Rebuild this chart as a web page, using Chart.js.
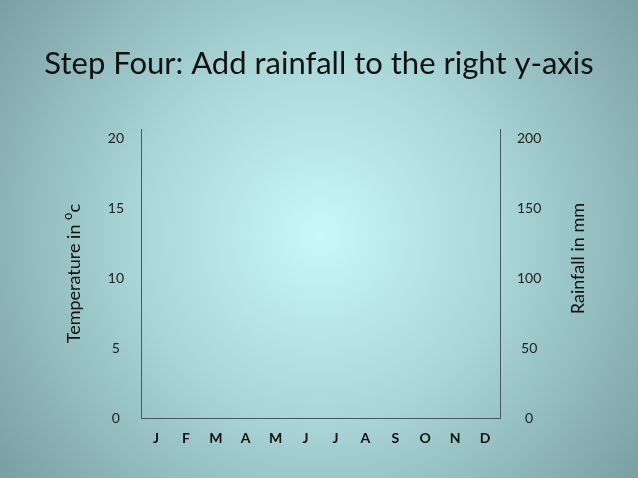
<!DOCTYPE html>
<html>
<head>
<meta charset="utf-8">
<script src="https://cdn.jsdelivr.net/npm/chart.js@4"></script>
<style>
  html, body { margin: 0; padding: 0; background: #8fb3b6; }
  #wrap { width: 638px; height: 478px; }
</style>
</head>
<body>
<div id="wrap"><canvas id="rainChart" width="638" height="478"></canvas></div>
<script>
// chart data (temperature and rainfall are not plotted yet at this step)
const months = ['J', 'F', 'M', 'A', 'M', 'J', 'J', 'A', 'S', 'O', 'N', 'D'];
const temperature = [];
const rainfall = [];
const tempTicks = [0, 5, 10, 15, 20];
const rainTicks = [0, 50, 100, 150, 200];

const slideBackground = {
    id: 'slideBackground',
    beforeDraw(chart) {
        const ctx = chart.ctx;
        const w = chart.width, h = chart.height;
        const g = ctx.createRadialGradient(320, 235, 0, 320, 235, 420);
        g.addColorStop(0, '#c9f8f8');
        g.addColorStop(0.45, '#a8d5d6');
        g.addColorStop(1, '#759a9e');
        ctx.save();
        ctx.fillStyle = g;
        ctx.fillRect(0, 0, w, h);
        ctx.restore();
    }
};

// both axis titles read bottom-to-top, so they are drawn here
const axisTitles = {
    id: 'axisTitles',
    afterDraw(chart) {
        const ctx = chart.ctx;
        const mid = (chart.chartArea.top + chart.chartArea.bottom) / 2;
        ctx.save();
        ctx.fillStyle = '#111';
        ctx.textBaseline = 'middle';

        // left: Temperature in °c with a raised small o
        ctx.save();
        ctx.translate(74, mid);
        ctx.rotate(-Math.PI / 2);
        ctx.font = '18px Lato';
        const main = 'Temperature in ';
        const sup = 'o';
        const tail = 'c';
        const wMain = ctx.measureText(main).width;
        const wTail = ctx.measureText(tail).width;
        ctx.font = '13px Lato';
        const wSup = ctx.measureText(sup).width;
        let x = -(wMain + wSup + wTail) / 2;
        ctx.textAlign = 'left';
        ctx.font = '18px Lato';
        ctx.fillText(main, x, 0);
        x += wMain;
        ctx.font = '13px Lato';
        ctx.fillText(sup, x, -6);
        x += wSup;
        ctx.font = '18px Lato';
        ctx.fillText(tail, x, 0);
        ctx.restore();

        // right: Rainfall in mm
        ctx.save();
        ctx.translate(578, mid - 15);
        ctx.rotate(-Math.PI / 2);
        ctx.font = '18px Lato';
        ctx.textAlign = 'center';
        ctx.fillText('Rainfall in mm', 0, 0);
        ctx.restore();

        ctx.restore();
    }
};

const ctx = document.getElementById('rainChart').getContext('2d');
new Chart(ctx, {
    type: 'bar',
    data: {
        labels: months,
        datasets: [{
            type: 'line',
            label: 'Temperature',
            data: temperature,
            yAxisID: 'y',
            borderColor: '#c0392b'
        }, {
            type: 'bar',
            label: 'Rainfall',
            data: rainfall,
            yAxisID: 'y1',
            backgroundColor: '#2e6fb5'
        }]
    },
    options: {
        responsive: false,
        devicePixelRatio: 1,
        animation: false,
        layout: { padding: 0 },
        plugins: {
            legend: { display: false },
            tooltip: { enabled: false },
            title: {
                display: true,
                text: 'Step Four: Add rainfall to the right y-axis',
                color: '#111',
                font: { family: 'Lato', size: 31, weight: 'normal' },
                padding: { top: 45, bottom: 47 }
            }
        },
        scales: {
            x: {
                offset: true,
                grid: { display: false, drawTicks: false },
                border: { display: true, color: '#4a5a5c', width: 1 },
                ticks: {
                    color: '#111',
                    font: { family: 'Lato', size: 14, weight: 'bold' },
                    padding: 12,
                    maxRotation: 0,
                    autoSkip: false
                },
                afterFit(scale) { scale.height = 60; }
            },
            y: {
                position: 'left',
                min: 0,
                max: 20.7,
                afterBuildTicks(scale) { scale.ticks = tempTicks.map(v => ({ value: v })); },
                grid: { display: false, drawTicks: false },
                border: { display: true, color: '#4a5a5c', width: 1 },
                ticks: {
                    color: '#222',
                    crossAlign: 'center',
                    padding: 17,
                    font: { family: 'Lato', size: 14 }
                },
                afterFit(scale) { scale.width = 141; }
            },
            y1: {
                position: 'right',
                min: 0,
                max: 207,
                afterBuildTicks(scale) { scale.ticks = rainTicks.map(v => ({ value: v })); },
                grid: { display: false, drawTicks: false },
                border: { display: true, color: '#4a5a5c', width: 1 },
                ticks: {
                    color: '#222',
                    crossAlign: 'center',
                    padding: 17,
                    font: { family: 'Lato', size: 14 }
                },
                afterFit(scale) { scale.width = 138; }
            }
        }
    },
    plugins: [slideBackground, axisTitles]
});
</script>
</body>
</html>
